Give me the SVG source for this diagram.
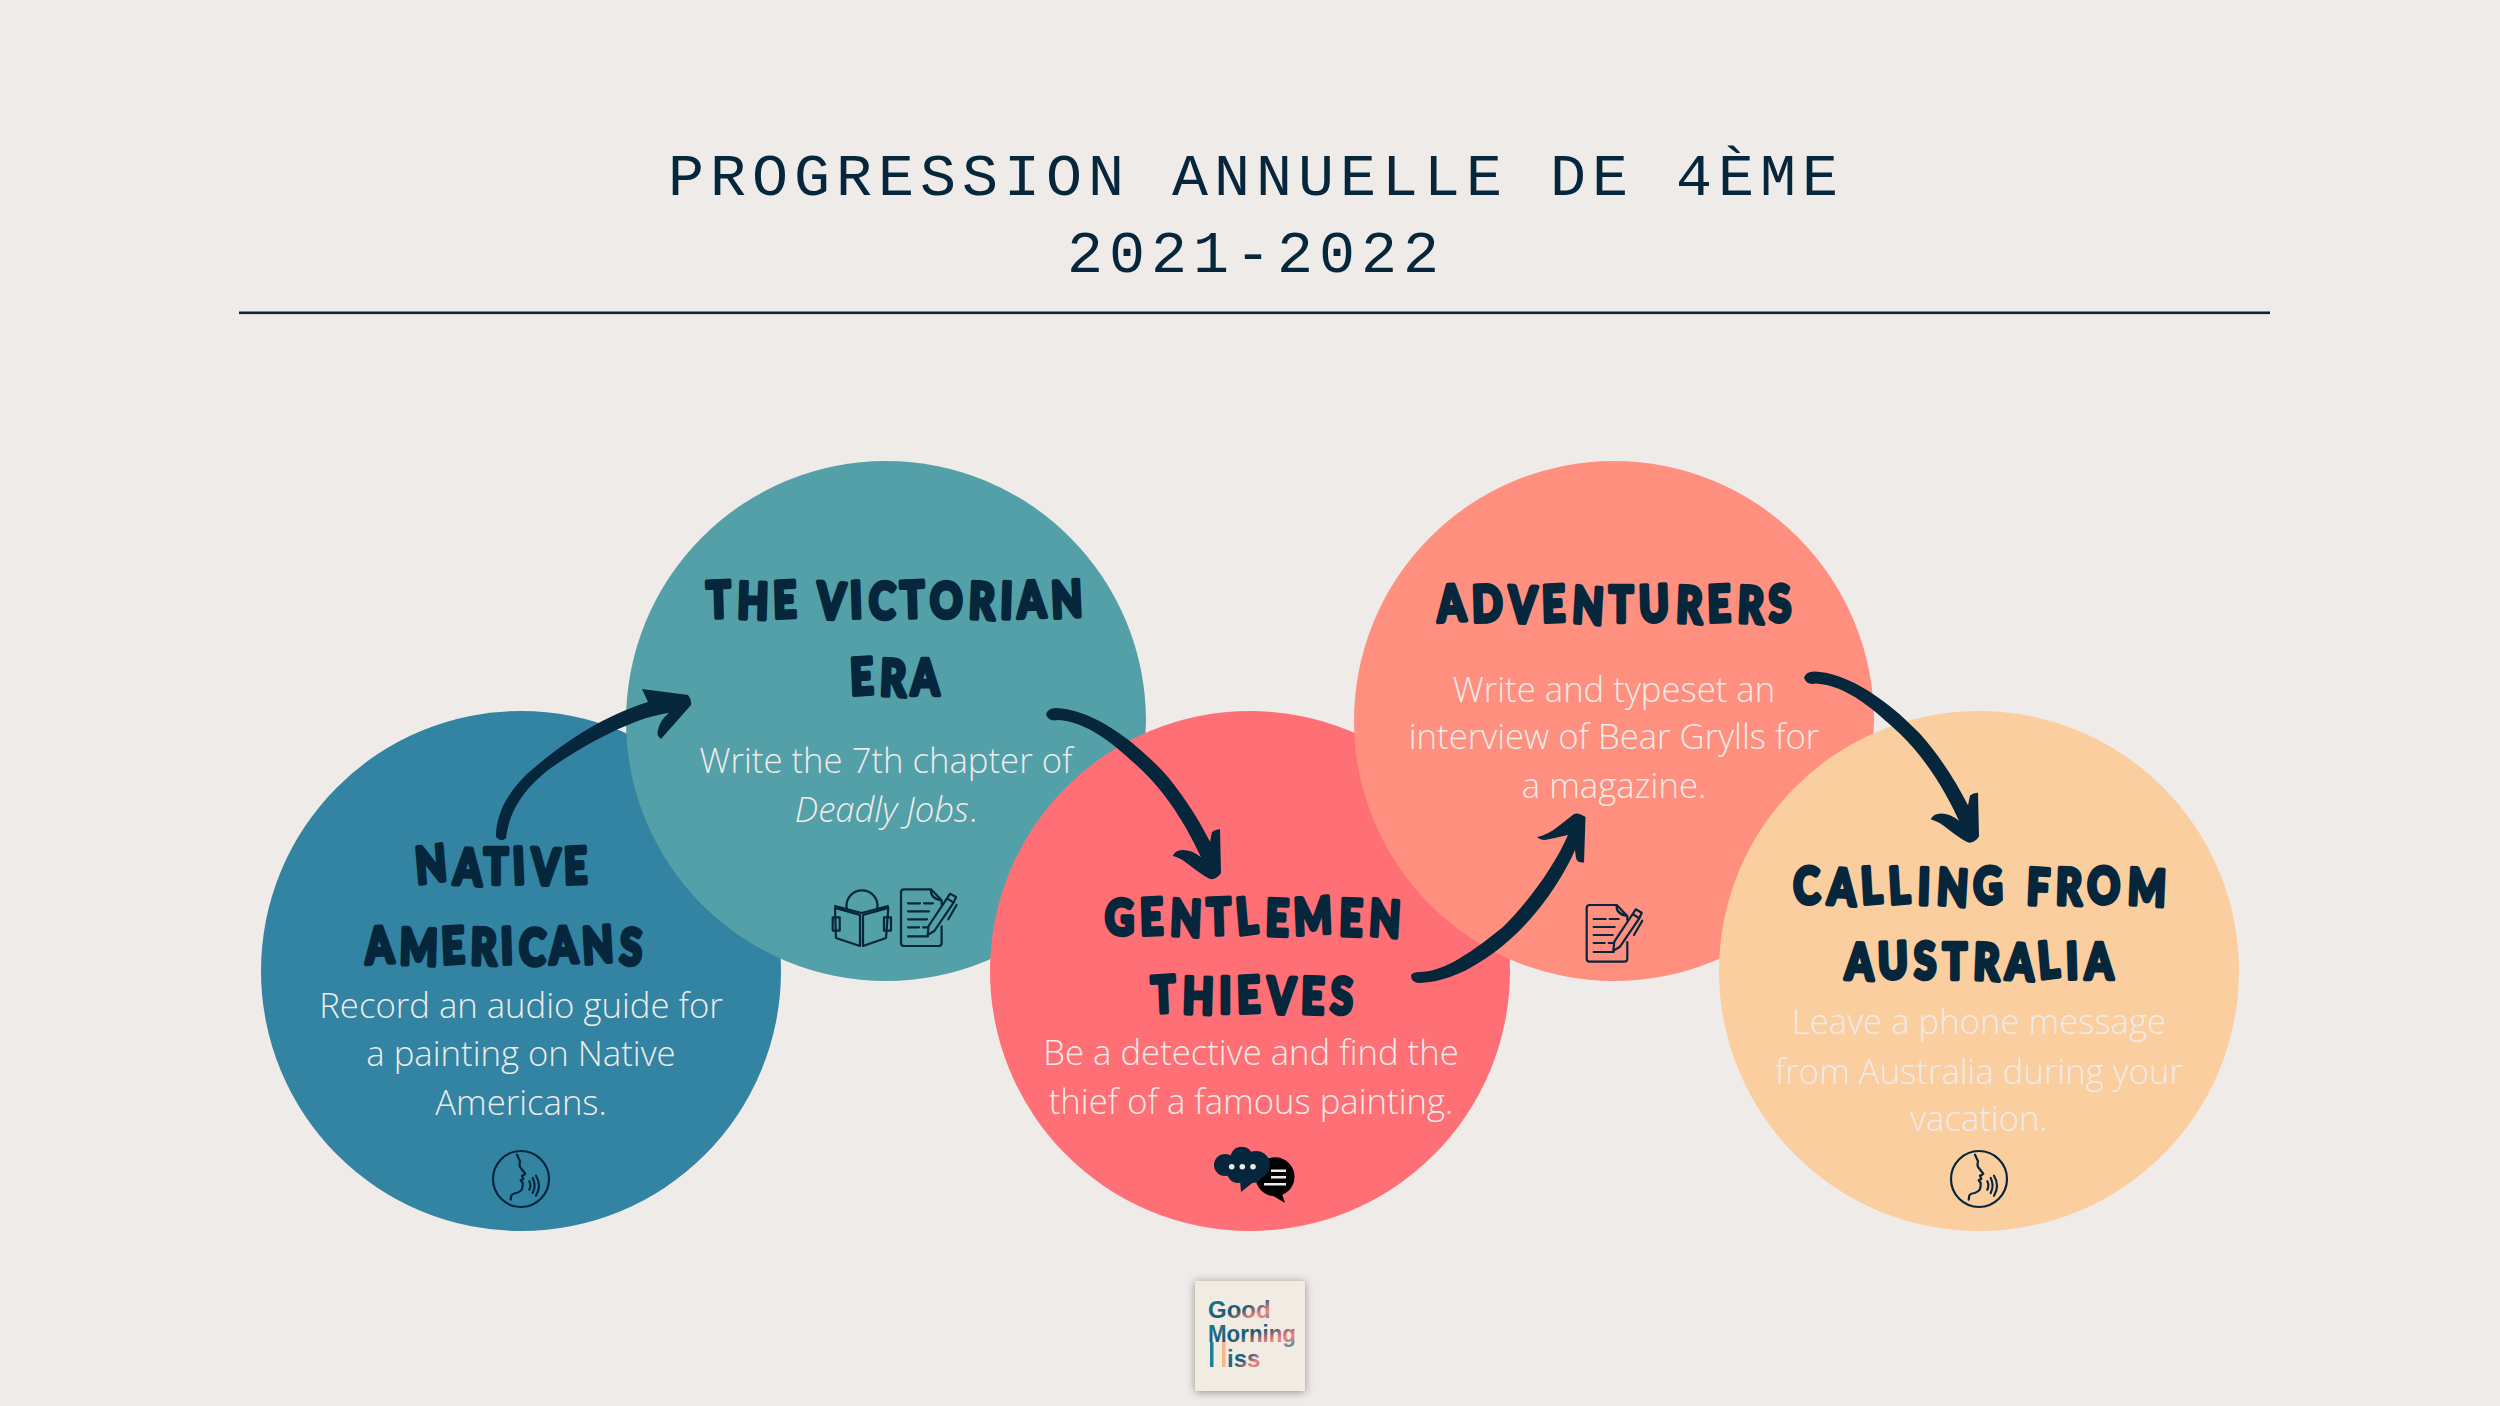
<svg xmlns="http://www.w3.org/2000/svg" xmlns:xlink="http://www.w3.org/1999/xlink" width="2500" height="1406" viewBox="0 0 2500 1406">
<style>
.title{font-family:"Liberation Mono",monospace;font-size:60px;fill:#05263b;text-anchor:middle;letter-spacing:6px}
.head{font-family:Lato,"Liberation Sans",sans-serif;font-weight:900;font-size:50px;fill:#05263b;stroke:#05263b;stroke-width:4.5px;stroke-linejoin:round}
.body{font-family:"Open Sans","Liberation Sans",sans-serif;font-weight:300;font-size:34.7px;fill:#efebe8;text-anchor:middle}
.ink{fill:none;stroke:#05263b;stroke-width:2.2px;stroke-linecap:round;stroke-linejoin:round}
.arrow{fill:#05263b}
.logo{font-family:"Liberation Sans",sans-serif;font-weight:700;font-size:24px;fill:url(#logoFill)}
</style>
<defs>
<linearGradient id="logoFill" x1="0" y1="0" x2="1" y2="1"><stop offset="0" stop-color="#1f7f95"/><stop offset=".5" stop-color="#1c5a75"/><stop offset=".75" stop-color="#ff7f78"/><stop offset="1" stop-color="#3a93a5"/></linearGradient>
<filter id="cardShadow" x="-30%" y="-30%" width="160%" height="160%"><feDropShadow dx="0" dy="1" stdDeviation="4" flood-color="#000" flood-opacity=".4"/></filter>
<g id="face">
<circle class="ink" r="28"/>
<path class="ink" d="M-4 -24.3 L-1 -17.7 Q-2 -14 -1 -12 L4.3 -5.3 Q3 -3.5 1 -3.3 L2.3 0 L-.3 1.3 L1.7 4 Q2 8 .7 10.7 Q-1 13 -4.3 14 Q-9 14.5 -9.7 16.7 L-10.3 20.7"/>
<path class="ink" d="M8.3 2.3 Q10.5 6.5 8.3 10.7 M11.7 -1 Q15.5 6.5 11.7 14 M15 -3.3 Q21 6.5 15 16.7"/>
</g>
<g id="doc">
<path class="ink" d="M30 0 H3 Q0 0 0 3 V53.7 Q0 56.7 3 56.7 H37.6 Q40.6 56.7 40.6 53.7 V37 M30 0 L40.6 11 V15 M30 0 Q29 9 40.6 11"/>
<path class="ink" d="M7 14 H19 M23 14 H32 M7 22 H28 M7 30 H26 M7 38 H18 M22 38 H26 M7 47 H27"/>
<path class="ink" d="M26.6 45.7 L27.6 36.7 L46 9 L52.6 13.3 L33.3 41.7 Z M46 9 L49 4.3 L55 7.7 L52.6 13.3 M55.6 15.7 L47.3 30"/>
</g>
<path id="arrowDown" class="arrow" d="M1046 714 Q1048 708 1056 708 C1090 709 1130 737 1161.7 770 C1180 790 1198 818 1210 841.7 L1212 832 Q1216 829 1220 829.3 L1221 873 Q1218 878 1212 879.3 Q1207 879 1185 861.7 Q1178 857 1172.7 856 Q1175 850 1183 850 Q1192 850 1201 857.3 C1190 833 1170 797 1141.7 770 C1118 748 1090 722 1058 720 Q1048 722 1046 714 Z"/>
</defs>
<rect width="2500" height="1406" fill="#efebe8"/>
<g id="title">
<text class="title" x="1256" y="195">PROGRESSION ANNUELLE DE 4ÈME</text>
<text class="title" x="1256" y="272">2021-2022</text>
<rect x="239" y="311.5" width="2031" height="2.6" fill="#05263b"/>
</g>
<g id="node-native-americans">
<circle cx="521" cy="971" r="260" fill="#3383a2"/>
</g>
<g id="node-victorian-era">
<circle cx="886" cy="721" r="260" fill="#53a0a9"/>
</g>
<g id="node-gentlemen-thieves">
<circle cx="1250" cy="971" r="260" fill="#ff6f76"/>
</g>
<g id="node-adventurers">
<circle cx="1614" cy="721" r="260" fill="#ff9080"/>
</g>
<g id="node-calling-from-australia">
<circle cx="1979" cy="971" r="260" fill="#fbcea0"/>
</g>
<g id="labels-native">
<text class="head" transform="translate(417 884) scale(.8 1)" textLength="213" lengthAdjust="spacing" rotate="-6 3 0 -3 2 -2">NATIVE</text>
<text class="head" transform="translate(366 964) scale(.8 1)" textLength="344" lengthAdjust="spacing" rotate="-3 2 -3 2 -2 3 -3 -4 3">AMERICANS</text>
<text class="body" x="521" y="1018">Record an audio guide for</text>
<text class="body" x="521" y="1066">a painting on Native</text>
<text class="body" x="521" y="1115">Americans.</text>
<use xlink:href="#face" href="#face" x="521" y="1179"/>
</g>
<g id="labels-victorian">
<text class="head" transform="translate(707 618) scale(.8 1)" textLength="470" lengthAdjust="spacing" rotate="-2 2 -2 0 3 -2 2 -2 0 3 2 -2 -3">THE VICTORIAN</text>
<text class="head" transform="translate(851 695) scale(.8 1)" textLength="110" lengthAdjust="spacing" rotate="-3 3 0">ERA</text>
<text class="body" x="886" y="773">Write the 7th chapter of</text>
<text class="body" x="886" y="822" font-style="italic">Deadly Jobs<tspan font-style="normal">.</tspan></text>
<g id="icon-book">
<path class="ink" d="M846.7 908.3 A15.5 15.5 0 1 1 877.3 908.3"/>
<path class="ink" d="M835 908 L860 915 L860 946 L836 938 Z M888.3 908 L863 915 L863 946 L886 938 Z M835 906 L861.5 913 L888 906"/>
<rect class="ink" x="832.7" y="917.3" width="7" height="13.3"/>
<rect class="ink" x="884" y="917.3" width="7" height="13.3"/>
</g>
<use xlink:href="#doc" href="#doc" x="901" y="889.3"/>
</g>
<g id="labels-gentlemen">
<text class="head" transform="translate(1105 935) scale(.8 1)" textLength="368" lengthAdjust="spacing" rotate="0 -2 3 -2 -6 2 -3 2 4">GENTLEMEN</text>
<text class="head" transform="translate(1152 1013) scale(.8 1)" textLength="250" lengthAdjust="spacing" rotate="-3 2 0 -2 2 2 3">THIEVES</text>
<text class="body" x="1251" y="1065">Be a detective and find the</text>
<text class="body" x="1251" y="1114">thief of a famous painting.</text>
<g id="icon-chat">
<circle cx="1275" cy="1176.7" r="19.5" fill="#000"/>
<path d="M1270 1194 L1285 1203 L1281 1191 Z" fill="#000"/>
<g fill="#05263b">
<circle cx="1225" cy="1165" r="11"/><circle cx="1241.7" cy="1158" r="11.3"/><circle cx="1256" cy="1165" r="14"/><circle cx="1238" cy="1172" r="11"/><circle cx="1252" cy="1171" r="12"/>
<path d="M1240 1180 L1256 1180 L1241 1192 Z"/>
</g>
<g fill="#efebe8"><circle cx="1231.7" cy="1166.7" r="2.8"/><circle cx="1242.3" cy="1166.7" r="2.8"/><circle cx="1253" cy="1166.7" r="2.8"/></g>
<path d="M1271 1170.7 H1286 M1271 1177.3 H1286 M1264 1184.3 H1286" stroke="#efebe8" stroke-width="2.4" fill="none"/>
</g>
</g>
<g id="labels-adventurers">
<text class="head" transform="translate(1438 622) scale(.8 1)" textLength="442" lengthAdjust="spacing" rotate="-3 -2 2 -2 4 0 -2 3 -2 3 -3">ADVENTURERS</text>
<text class="body" x="1614" y="702">Write and typeset an</text>
<text class="body" x="1614" y="749">interview of Bear Grylls for</text>
<text class="body" x="1614" y="798">a magazine.</text>
<use xlink:href="#doc" href="#doc" x="1586.7" y="905"/>
</g>
<g id="labels-calling">
<text class="head" transform="translate(1794 904) scale(.8 1)" textLength="464" lengthAdjust="spacing" rotate="-2 3 -4 -4 2 4 -2 0 3 2 -2 3">CALLING FROM</text>
<text class="head" transform="translate(1845 979) scale(.8 1)" textLength="335" lengthAdjust="spacing" rotate="2 -2 -2 0 3 3 -6 -2 0">AUSTRALIA</text>
<text class="body" x="1979" y="1034">Leave a phone message</text>
<text class="body" x="1979" y="1084">from Australia during your</text>
<text class="body" x="1979" y="1131">vacation.</text>
<use xlink:href="#face" href="#face" x="1979" y="1179"/>
</g>
<g id="connectors">
<path class="arrow" d="M496 833 C498 805 515 786 527 774 C560 745 600 717 648 702 L642 689 L688 695 Q692 700 691 705 L661 739 Q656 735 658 730 Q660 720 669 713 C640 716 590 740 548 770 C530 785 510 805 506 838 Q501 843 496 837 Z"/>
<use xlink:href="#arrowDown" href="#arrowDown"/>
<path class="arrow" d="M1411 975 Q1413 972 1420 972 C1440 972 1465 958 1503 927 C1530 900 1555 865 1568 835 Q1555 838 1545 840 Q1540 840 1537 837 Q1548 835 1560 825 L1574 814 Q1578 812 1585.5 817 L1584 862.5 Q1577 863 1576 858 L1575 850 C1560 885 1525 935 1480 962 C1460 975 1440 982 1420 983 Q1411 983 1411 975 Z"/>
<use xlink:href="#arrowDown" href="#arrowDown" x="758" y="-36.5"/>
</g>
<g id="logo">
<rect x="1195" y="1281" width="110" height="110" fill="#f2ebe1" filter="url(#cardShadow)"/>
<text class="logo" x="1208" y="1318">Good</text>
<text class="logo" x="1208" y="1342" textLength="88" lengthAdjust="spacingAndGlyphs">Morning</text>
<rect x="1210" y="1342" width="3.5" height="25" fill="#1f7f95"/>
<rect x="1222" y="1342" width="3.5" height="25" fill="#f6b58d"/>
<text class="logo" x="1227" y="1367">iss</text>
</g>
</svg>
